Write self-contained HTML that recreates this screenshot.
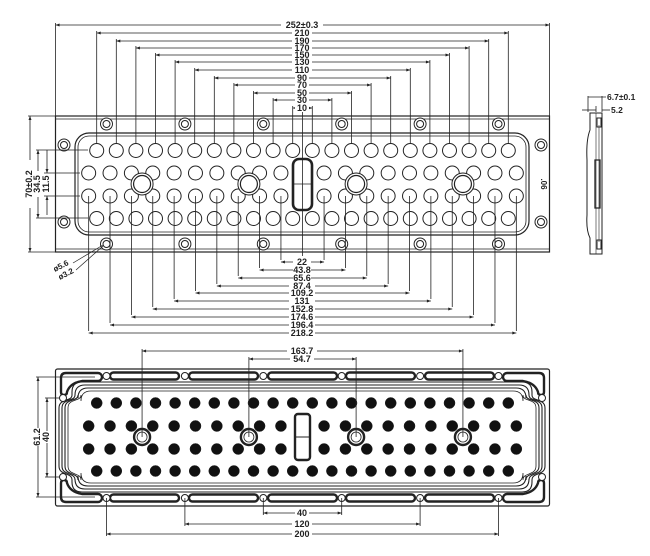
<!DOCTYPE html>
<html><head><meta charset="utf-8"><style>
html,body{margin:0;padding:0;background:#fff;width:650px;height:556px;overflow:hidden}
svg{display:block}
text{font-family:"Liberation Sans",sans-serif;font-size:9px;font-weight:bold;fill:#222}
</style></head><body>
<svg id="s" width="650" height="556" viewBox="0 0 650 556" xmlns="http://www.w3.org/2000/svg">
<g id="g" fill="none" stroke="#222" stroke-width="0.8"></g>
<g id="t">
<text x="302" y="28" text-anchor="middle">252±0.3</text>
<text x="302" y="36" text-anchor="middle">210</text>
<text x="302" y="44" text-anchor="middle">190</text>
<text x="302" y="51" text-anchor="middle">170</text>
<text x="302" y="58" text-anchor="middle">150</text>
<text x="302" y="65" text-anchor="middle">130</text>
<text x="302" y="73" text-anchor="middle">110</text>
<text x="302" y="81" text-anchor="middle">90</text>
<text x="302" y="88" text-anchor="middle">70</text>
<text x="302" y="96" text-anchor="middle">50</text>
<text x="302" y="103" text-anchor="middle">30</text>
<text x="302" y="111" text-anchor="middle">10</text>
<text x="302" y="265" text-anchor="middle">22</text>
<text x="302" y="273" text-anchor="middle">43.8</text>
<text x="302" y="281" text-anchor="middle">65.6</text>
<text x="302" y="289" text-anchor="middle">87.4</text>
<text x="302" y="296" text-anchor="middle">109.2</text>
<text x="302" y="304" text-anchor="middle">131</text>
<text x="302" y="312" text-anchor="middle">152.8</text>
<text x="302" y="320" text-anchor="middle">174.6</text>
<text x="302" y="328" text-anchor="middle">196.4</text>
<text x="302" y="336" text-anchor="middle">218.2</text>
<text x="302" y="354" text-anchor="middle">163.7</text>
<text x="302" y="362" text-anchor="middle">54.7</text>
<text x="302" y="516" text-anchor="middle">40</text>
<text x="302" y="527" text-anchor="middle">120</text>
<text x="302" y="537" text-anchor="middle">200</text>
<text transform="translate(32,184) rotate(-90)" text-anchor="middle">70±0.2</text>
<text transform="translate(40,184) rotate(-90)" text-anchor="middle">34.5</text>
<text transform="translate(49,184) rotate(-90)" text-anchor="middle">11.5</text>
<text transform="translate(40,437) rotate(-90)" text-anchor="middle">61.2</text>
<text transform="translate(49,437) rotate(-90)" text-anchor="middle">40</text>
<text transform="translate(541,184) rotate(90)" text-anchor="middle" style="font-size:8px">.06</text>
<text transform="translate(55,272) rotate(-28)" style="font-size:8px">ø5.6</text>
<text transform="translate(60,280) rotate(-28)" style="font-size:8px">ø3.2</text>
<text x="607" y="100" style="font-size:8.5px">6.7±0.1</text>
<text x="611" y="113" style="font-size:8.5px">5.2</text>
</g>
</svg>
<script>
var g=document.getElementById('g'),NS='http://www.w3.org/2000/svg';
function el(n,a){var e=document.createElementNS(NS,n);for(var k in a)e.setAttribute(k,a[k]);g.appendChild(e);return e}
function L(x1,y1,x2,y2,w){el('line',{x1:x1,y1:y1,x2:x2,y2:y2,'stroke-width':w||0.8})}
function C(x,y,r,f,w){el('circle',{cx:x,cy:y,r:r,fill:f||'#fff','stroke-width':w||1})}
function arr(x,y,d){var s=4;el('path',{d:'M'+x+' '+y+'L'+(x+d*s)+' '+(y-1.5)+'L'+(x+d*s)+' '+(y+1.5)+'Z',fill:'#222',stroke:'none'})}
function varr(x,y,d){var s=4;el('path',{d:'M'+x+' '+y+'L'+(x-1.5)+' '+(y+d*s)+'L'+(x+1.5)+' '+(y+d*s)+'Z',fill:'#222',stroke:'none'})}
var S=1.96,CX=302.5;function X(mm){return CX+mm*S}
function hdim(y,half,ey,tw){var a=X(-half),b=X(half);L(a,y,b,y);arr(a,y,1);arr(b,y,-1);L(a,y-2,a,ey);L(b,y-2,b,ey);el('rect',{x:302-tw/2,y:y-4,width:tw,height:8,fill:'#fff',stroke:'none'})}
/* ===== TOP VIEW ===== */
var T=184;
el('rect',{x:55.5,y:116,width:494,height:136,'stroke-width':1.2});
L(55.5,119,549.5,119);L(55.5,249,549.5,249);
el('rect',{x:75,y:133,width:454,height:102,rx:14,'stroke-width':1.2});
el('rect',{x:78,y:136,width:448,height:96,rx:11,'stroke-width':0.8});
[-100,-60,-20,20,60,100].forEach(function(m){[124,244].forEach(function(y){C(X(m),y,6,'#fff',1);C(X(m),y,3.5,'#fff',1)})});
[[64,145],[64,222],[541,145],[541,222]].forEach(function(p){C(p[0],p[1],6,'#fff',1);C(p[0],p[1],3.5,'#fff',1)});
// top dims
var td=[[25,126,'252'],[33,105],[41,95],[48,85],[55,75],[62,65],[70,55],[78,45],[85,35],[93,25],[100,15],[108,5]];
td.forEach(function(d,i){hdim(d[0],d[1],i==0?116:150,i==0?42:(d[1]>=55?20:14))});
for(var m=-105;m<=105;m+=10){C(X(m),150.5,7);C(X(m),218.5,7)}
var p2=[];for(var k=0;k<10;k++){p2.push(11+10.9*k);p2.push(-(11+10.9*k))}
p2.forEach(function(m){C(X(m),173,7);C(X(m),196,7)});
// bosses
[-81.85,-27.35,27.35,81.85].forEach(function(m){C(X(m),184,11,'#fff',1);C(X(m),184,8.5,'#fff',1.2)});
// center slot
el('rect',{x:293,y:159,width:19,height:51,rx:6,'stroke-width':2.6,fill:'#fff'});
L(302.5,112,302.5,256,0.8);L(294,184,311,184);
// bottom dims of top view
var bd=[[262,11],[270,21.9],[278,32.8],[286,43.7],[293,54.6],[301,65.5],[309,76.4],[317,87.3],[325,98.2],[333,109.1]];
bd.forEach(function(d){hdim(d[0],d[1],196,d[1]>40?26:18)});
// left dims
function vdim(x,y1,y2,e1,e2){L(x,y1,x,y2);varr(x,y1,1);varr(x,y2,-1);L(x-2,y1,e1,y1);L(x-2,y2,e2,y2)}
vdim(30,116,252,56,56);el('rect',{x:26,y:160,width:8,height:48,fill:'#fff',stroke:'none'});
vdim(38,150,218,88,88);el('rect',{x:35,y:171,width:7,height:26,fill:'#fff',stroke:'none'});
L(47,150,47,173);L(47,196,47,215);varr(47,173,-1);varr(47,196,1);L(44,173,80,173);L(44,196,80,196);
el('rect',{x:44,y:176,width:7,height:17,fill:'#fff',stroke:'none'});
L(73,263,103,245,0.7);L(76,270,103,246,0.7);
// side view
el('path',{d:'M590 113 H602 V254 H590 V238 Q586 230 587 215 V160 Q586 140 590 130 Z','stroke-width':1});
L(596,113,596,254,0.6);L(599,125,599,242,0.6);
el('path',{d:'M595 160 H600 V208 H595 Z','stroke-width':1.3});
el('rect',{x:597,y:118,width:4,height:9,'stroke-width':1});el('rect',{x:597,y:240,width:4,height:9,'stroke-width':1});
L(588,96,588,112);L(602,96,602,112);L(588,97,606,97);L(602,110,610,110);L(596,106,596,112);L(582,110,596,110);
/* ===== BOTTOM VIEW ===== */
var B=437;
el('rect',{x:55.5,y:369,width:494,height:137,rx:2,'stroke-width':1.2});
// contours
for(var o=0;o<=9;o+=3){
 var t=382+o,b=492-o,lc=72+o,lb=59+o,rc=532-o,rb=545-o;
 el('path',{d:'M'+(lc+10)+' '+t+' H'+(rc-10)+' Q'+rc+' '+t+' '+rc+' '+(t+10)+' V'+(395)+' C'+rc+' 402 '+rb+' 398 '+rb+' 408 V466 C'+rb+' 476 '+rc+' 472 '+rc+' 480 V'+(b-10)+' Q'+rc+' '+b+' '+(rc-10)+' '+b+' H'+(lc+10)+' Q'+lc+' '+b+' '+lc+' '+(b-10)+' V480 C'+lc+' 472 '+lb+' 476 '+lb+' 466 V408 C'+lb+' 398 '+lc+' 402 '+lc+' 395 V'+(t+10)+' Q'+lc+' '+t+' '+(lc+10)+' '+t+' Z','stroke-width':o==9?0.8:1.1});
}
// slots
var sx=[[110,179],[189,258],[268,337],[346,415],[425,494]];
sx.forEach(function(s){[376,498].forEach(function(y){el('rect',{x:s[0],y:y-3.5,width:s[1]-s[0],height:7,rx:3.5,'stroke-width':2.4,fill:'#fff'})})});
// corners
function corner(tr){el('path',{d:'M98 373 H66 Q61 373 61 378 V392 Q61 395 64 395 Q67 395 67 392 Q70 383 82 381 H98 A4 4 0 0 0 98 373 Z','stroke-width':2.4,fill:'#fff',transform:tr})}
corner('');corner('translate(605,0) scale(-1,1)');corner('translate(0,875) scale(1,-1)');corner('translate(605,875) scale(-1,-1)');
[-100,-60,-20,20,60,100].forEach(function(m){[376,498].forEach(function(y){C(X(m),y,3.5,'#fff',1)})});
[[63,398],[63,477],[542,398],[542,477]].forEach(function(p){C(p[0],p[1],3.5,'#fff',1)});
for(var m=-105;m<=105;m+=10){C(X(m),403,5.5,'#111',0.5);C(X(m),471,5.5,'#111',0.5)}
p2.forEach(function(m){C(X(m),426,5.5,'#111',0.5);C(X(m),449,5.5,'#111',0.5)});
[-81.85,-27.35,27.35,81.85].forEach(function(m){C(X(m),437,8,'#fff',2.4);C(X(m),437,5,'#fff',0.8)});
el('rect',{x:295,y:414,width:15,height:46,rx:3,'stroke-width':2.4,fill:'#fff'});L(295,437,310,437,1);
// dims
hdim(351,81.85,437,30);hdim(359,27.35,437,24);
function hdimb(y,half,ey,tw){var a=X(-half),b=X(half);L(a,y,b,y);arr(a,y,1);arr(b,y,-1);L(a,y+2,a,ey);L(b,y+2,b,ey);el('rect',{x:302-tw/2,y:y-4,width:tw,height:8,fill:'#fff',stroke:'none'})}
hdimb(513,20,498,14);hdimb(524,60,498,20);hdimb(534,100,498,20);
vdim(38,377,497,95,95);el('rect',{x:35,y:428,width:7,height:18,fill:'#fff',stroke:'none'});
vdim(47,398,477,60,60);el('rect',{x:44,y:431,width:7,height:12,fill:'#fff',stroke:'none'});
</script>
</body></html>
